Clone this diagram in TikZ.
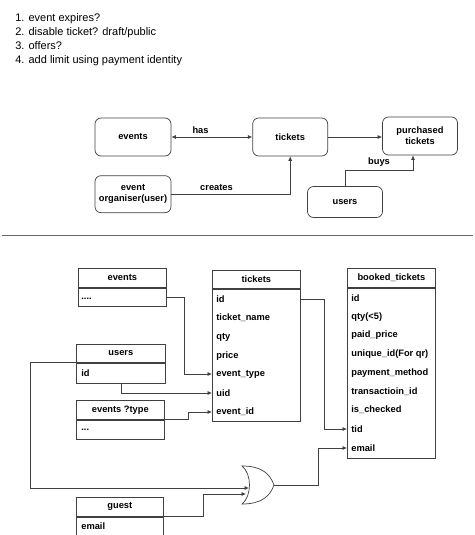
\documentclass[tikz,border=0pt]{standalone}
\usepackage{fontspec}
\setmainfont{Liberation Sans}
\usetikzlibrary{arrows.meta, positioning}
\newcommand{\lbl}{\fontsize{9.3}{11}\selectfont\bfseries}
\tikzstyle{block} = [draw=black!75, rounded corners=6pt, minimum width=76pt, minimum height=38pt, align=center, font=\lbl]
\tikzstyle{thead} = [draw=black!75, anchor=north west, minimum width=88pt, minimum height=19pt, inner sep=0pt, font=\lbl]
\tikzstyle{tbody} = [draw=black!75, anchor=north west, minimum width=88pt, inner sep=0pt]
\tikzstyle{field} = [anchor=west, inner sep=2pt, font=\lbl]
\tikzstyle{link} = [->, draw=black!75]

\begin{document}
\begin{tikzpicture}[x=1pt, y=-1pt, >={Latex[length=4.5pt,width=4pt]}, line width=0.7pt]
  \useasboundingbox (0,0) rectangle (474,535);
  % notes
  \node[anchor=north west, align=left, inner sep=0pt, font=\fontsize{11}{14}\selectfont] (notes) at (15,13)
    {1. event expires?\\2. disable ticket? draft/public\\3. offers?\\4. add limit using payment identity};

  % overview
  \node[block] (events) at (133,137) {events};
  \node[block, below=19pt of events, minimum height=37pt] (organiser) {event\\organiser(user)};
  \node[block, right=81pt of events, minimum width=75pt] (tickets) {tickets};
  \node[block, minimum width=75pt] (purchased) at (420,136) {purchased\\tickets};
  \node[block, minimum width=75pt, minimum height=31pt] (users) at (345,202) {users};
  \draw[link, <->] (events) -- node[above, pos=.36, font=\lbl, text=black] {has} (tickets);
  \draw[link] (organiser) -| node[above, pos=.19, font=\lbl, text=black] {creates} (tickets);
  \draw[link] (tickets.east) -- (tickets.east -| purchased.west);
  \draw[link] (users.north) -- ++(0,-16) -| node[above, pos=.25, font=\lbl, text=black] {buys} ([xshift=-7pt]purchased.south);

  \draw[black!60, line width=1pt] (2,235) -- (473,235);

  % tables
  \node[thead] (ev) at (78,268) {events};
  \node[tbody, minimum height=18pt] (evb) at (ev.south west) {};
  \node[field] (ev-r) at (79,299) {....};

  \node[thead, minimum width=89pt, minimum height=18pt] (us) at (76,344) {users};
  \node[tbody, minimum width=89pt, minimum height=20pt] (usb) at (us.south west) {};
  \node[field] (us-id) at (79,373) {id};

  \node[thead] (et) at (76,400) {events ?type};
  \node[tbody, minimum height=19pt] (etb) at (et.south west) {};
  \node[field] (et-r) at (79,430) {...};

  \node[thead, minimum width=87pt] (gu) at (76,497) {guest};
  \node[tbody, minimum width=87pt, minimum height=30pt] (gub) at (gu.south west) {};
  \node[field] (gu-email) at (79,526) {email};

  \node[thead, minimum height=18pt] (tk) at (212,270) {tickets};
  \node[tbody, minimum height=132pt] (tkb) at (tk.south west) {};
  \node[field] (tk-id) at (214,299) {id};
  \node[field] (tk-name) at (214,318) {ticket\_name};
  \node[field] (tk-qty) at (214,337) {qty};
  \node[field] (tk-price) at (214,356) {price};
  \node[field] (tk-etype) at (214,374) {event\_type};
  \node[field] (tk-uid) at (214,393) {uid};
  \node[field] (tk-eid) at (214,412) {event\_id};

  \node[thead] (bk) at (347,268) {booked\_tickets};
  \node[tbody, minimum height=170pt] (bkb) at (bk.south west) {};
  \node[field] (bk-id) at (349,298) {id};
  \node[field] (bk-qty) at (349,317) {qty(<5)};
  \node[field] (bk-paid) at (349,335) {paid\_price};
  \node[field] (bk-uniq) at (349,354) {unique\_id(For qr)};
  \node[field] (bk-pay) at (349,373) {payment\_method};
  \node[field] (bk-trans) at (349,392) {transactioin\_id};
  \node[field] (bk-check) at (349,410) {is\_checked};
  \node[field] (bk-tid) at (349,429) {tid};
  \node[field] (bk-email) at (349,448) {email};

  % or gate
  \node[minimum width=32pt, minimum height=38pt, inner sep=0pt] (gate) at (258,485) {};
  \draw[black!75] (242,466) .. controls (262,466) and (270,474) .. (274,485)
    .. controls (270,496) and (262,504) .. (242,504)
    .. controls (252,496) and (252,474) .. (242,466) -- cycle;
  \coordinate (in1) at (249,488);
  \coordinate (in2) at (246,494);

  \draw[link] (evb.east) -- ++(18,0) |- (tk-etype -| tkb.west);
  \draw[link] (usb.south) |- (tk-uid -| tkb.west);
  \draw[link] (et.south east) -- ++(24,0) |- (tk-eid -| tkb.west);
  \draw[link] (tk-id -| tkb.east) -- ++(24,0) |- (bk-tid -| bkb.west);
  \draw[link] (us.south west) -- ++(-46,0) |- (in1);
  \draw[link] (gu.south east) -- ++(40,0) |- (in2);
  \draw[link] (gate.east) -- ++(44,0) |- (bk-email -| bkb.west);
\end{tikzpicture}
\end{document}
